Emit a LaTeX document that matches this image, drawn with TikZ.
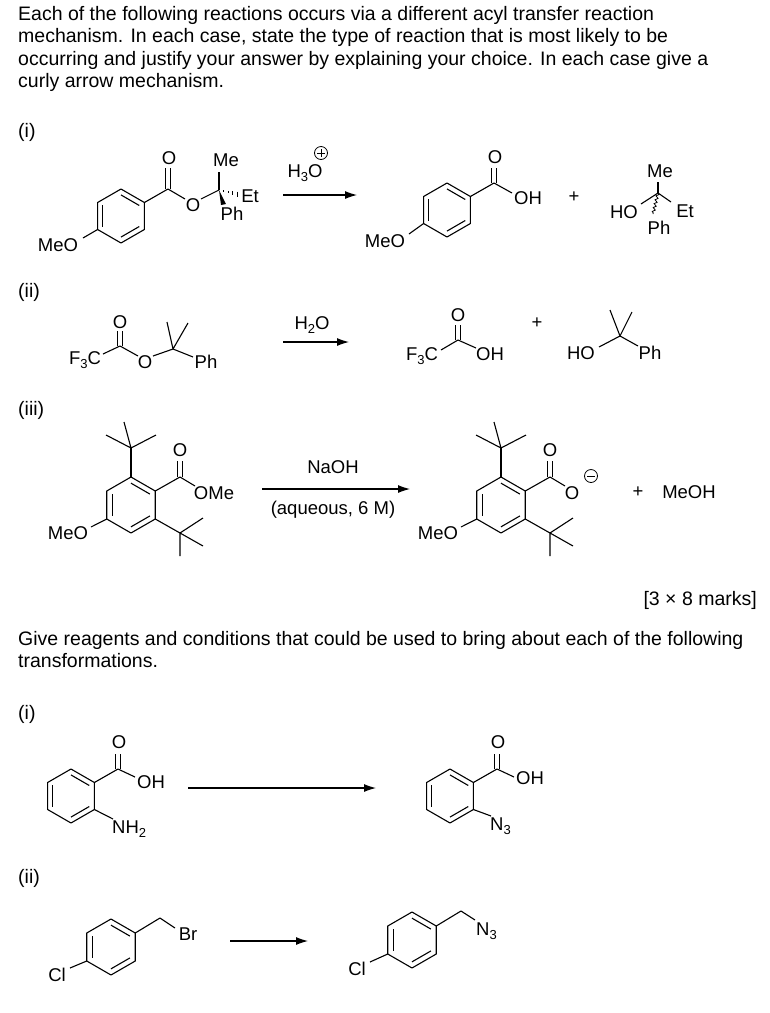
\documentclass[tikz,border=0pt]{standalone}
\usepackage{fontspec}
\setmainfont{Liberation Sans}
\usetikzlibrary{calc,decorations.pathmorphing,arrows.meta}
\newcommand\sbs[1]{\raisebox{-0.4ex}{\fontsize{13}{13}\selectfont #1}}
\newcommand\benzring[4]{%
  \coordinate (#3c) at (#1,#2);
  \foreach \i/\a in {1/-90,2/-30,3/30,4/90,5/150,6/210}{\coordinate (#3\i) at ($(#1,#2)+(\a:#4)$);}
  \draw[bond] (#31)--(#32)--(#33)--(#34)--(#35)--(#36)--cycle;
  \draw[bond] ($(#3c)!0.78!(#31)$)--($(#3c)!0.78!(#32)$);
  \draw[bond] ($(#3c)!0.78!(#33)$)--($(#3c)!0.78!(#34)$);
  \draw[bond] ($(#3c)!0.78!(#35)$)--($(#3c)!0.78!(#36)$);
}
\begin{document}
\begin{tikzpicture}[x=1pt,y=-1pt,
  bond/.style={line width=1.1pt,line join=round},
  rarrow/.style={line width=1.1pt,-{Latex[length=12pt,width=8pt]}},
  lab/.style={inner sep=0pt,font=\fontsize{18.5}{21}\selectfont},
  txt/.style={inner sep=0pt,anchor=west,font=\fontsize{19.5}{22}\selectfont}]
\useasboundingbox (0,0) rectangle (770,1013);
\fill[white] (0,0) rectangle (770,1013);
% header
\node[txt,anchor=north west,align=left,font=\fontsize{19.5}{22.5}\selectfont] (head) at (18,6)
 {Each of the following reactions occurs via a different acyl transfer reaction\\
  mechanism. In each case, state the type of reaction that is most likely to be\\
  occurring and justify your answer by explaining your choice. In each case give a\\
  curly arrow mechanism.};
\node[txt] (l1) at (18,132) {(i)};
\node[txt] (l2) at (18,292) {(ii)};
\node[txt] (l3) at (18,410) {(iii)};
\node[txt,anchor=east] (marks) at (757,600) {[3 × 8 marks]};
\node[txt,anchor=north west,align=left,font=\fontsize{19.5}{22.5}\selectfont] (head2) at (18,631)
 {Give reagents and conditions that could be used to bring about each of the following\\ transformations.};
\node[txt] (m1) at (18,714) {(i)};
\node[txt] (m2) at (18,878) {(ii)};

% ===== (i) reactant
\benzring{121}{216}{A}{27}
\node[lab] (A_meo) at (58,245) {MeO};
\coordinate (A_o) at (83,238);
\draw[bond] (A5)--(A_o);
\coordinate (A_c) at (168,189);
\node[lab] (A_O) at (169,158) {O};
\coordinate (A_oa) at (168,168);
\draw[bond] (A2)--(A_c);
\draw[bond] ($(A_c)+(-2.5,0)$)--($(A_oa)+(-2.5,0)$) ($(A_c)+(2.5,0)$)--($(A_oa)+(2.5,0)$);
\node[lab] (A_eO) at (193,205) {O};
\draw[bond] (A_c)--(185,199);
\coordinate (A_q) at (219,190);
\draw[bond] (201,199)--(A_q);
\node[lab] (A_me) at (226,160) {Me};
\draw[bond] (A_q)--(219,172);
\node[lab] (A_et) at (250,196) {Et};
\foreach \t in {0.25,0.5,0.75,1.0}{\draw[line width=0.8pt] ($(A_q)!\t!(237,194)+(0,-2.5*\t)$)--($(A_q)!\t!(237,194)+(0,2.5*\t)$);}
\node[lab] (A_ph) at (232,214) {Ph};
\fill (A_q)--(226,204)--(221,205)--cycle;

\draw[rarrow] (283,195)--(357,195);
\node[lab] (h3o) at (305,173) {H\sbs{3}O};
\draw[line width=0.8pt] (321,153) circle (6.5);
\draw[line width=0.8pt] (317,153)--(325,153) (321,149)--(321,157);

% ===== (i) products
\benzring{447}{210}{B}{27}
\node[lab] (B_meo) at (385,241) {MeO};
\draw[bond] (B5)--(409,234);
\coordinate (B_c) at (494,183);
\draw[bond] (B2)--(B_c);
\node[lab] (B_O) at (495,157) {O};
\draw[bond] ($(B_c)+(-2.5,0)$)--($(B_c)+(-2.5,-15)$) ($(B_c)+(2.5,0)$)--($(B_c)+(2.5,-15)$);
\node[lab] (B_oh) at (528,198) {OH};
\draw[bond] (B_c)--(512,193);
\node[lab] (plus1) at (574,197) {+};
\coordinate (C_q) at (658,193);
\node[lab] (C_me) at (660,171) {Me};
\draw[bond] (C_q)--(658,182);
\node[lab] (C_ho) at (624,212) {HO};
\draw[bond] (C_q)--(641,204);
\node[lab] (C_et) at (685,211) {Et};
\draw[bond] (C_q)--(671,202);
\node[lab] (C_ph) at (659,228) {Ph};
\draw[line width=0.8pt,decorate,decoration={snake,amplitude=1.3pt,segment length=4pt}] (C_q)--(653,214);

% ===== (ii) reactant
\node[lab] (D_f) at (85,360) {F\sbs{3}C};
\coordinate (D_c) at (120,346);
\draw[bond] (103,354)--(D_c);
\node[lab] (D_O) at (120,322) {O};
\draw[bond] ($(D_c)+(-2.5,0)$)--($(D_c)+(-2.5,-15)$) ($(D_c)+(2.5,0)$)--($(D_c)+(2.5,-15)$);
\node[lab] (D_eO) at (145,362) {O};
\draw[bond] (D_c)--(138,356);
\coordinate (D_q) at (173,349);
\draw[bond] (153,356)--(D_q);
\draw[bond] (D_q)--(167,322) (D_q)--(188,323);
\node[lab] (D_ph) at (206,362) {Ph};
\draw[bond] (D_q)--(193,357);
\draw[rarrow] (283,342)--(349,342);
\node[lab] (h2o) at (312,325) {H\sbs{2}O};

% ===== (ii) products
\node[lab] (E_f) at (422,356) {F\sbs{3}C};
\coordinate (E_c) at (458,340);
\draw[bond] (441,350)--(E_c);
\node[lab] (E_O) at (458,315) {O};
\draw[bond] ($(E_c)+(-2.5,0)$)--($(E_c)+(-2.5,-15)$) ($(E_c)+(2.5,0)$)--($(E_c)+(2.5,-15)$);
\node[lab] (E_oh) at (490,354) {OH};
\draw[bond] (E_c)--(476,348);
\node[lab] (plus2) at (537,323) {+};
\node[lab] (F_ho) at (581,353) {HO};
\coordinate (F_q) at (620,336);
\draw[bond] (599,347)--(F_q);
\draw[bond] (F_q)--(610,310) (F_q)--(632,312);
\node[lab] (F_ph) at (650,353) {Ph};
\draw[bond] (F_q)--(638,346);

% ===== (iii) reactant
\benzring{131}{505}{G}{28}
\coordinate (G_t) at (131,448);
\draw[bond] (G1)--(G_t);
\draw[bond] (G_t)--(106,435) (G_t)--(156,435) (G_t)--(124,422);
\coordinate (G_c) at (180,477);
\draw[bond] (G2)--(G_c);
\node[lab] (G_O) at (180,450) {O};
\draw[bond] ($(G_c)+(-2.5,0)$)--($(G_c)+(-2.5,-16)$) ($(G_c)+(2.5,0)$)--($(G_c)+(2.5,-16)$);
\node[lab] (G_ome) at (214,493) {OMe};
\draw[bond] (G_c)--(195,486);
\coordinate (G_b) at (180,533);
\draw[bond] (G3)--(G_b);
\draw[bond] (G_b)--(203,518) (G_b)--(203,546) (G_b)--(180,556);
\node[lab] (G_meo) at (68,533) {MeO};
\draw[bond] (G5)--(91,527);
\draw[rarrow] (262,489)--(410,489);
\node[lab] (naoh) at (333,467) {NaOH};
\node[lab] (aq) at (333,510) {(aqueous, 6 M)};

% ===== (iii) products
\benzring{501}{505}{H}{28}
\coordinate (H_t) at (501,448);
\draw[bond] (H1)--(H_t);
\draw[bond] (H_t)--(476,435) (H_t)--(526,435) (H_t)--(494,422);
\coordinate (H_c) at (550,477);
\draw[bond] (H2)--(H_c);
\node[lab] (H_O) at (550,450) {O};
\draw[bond] ($(H_c)+(-2.5,0)$)--($(H_c)+(-2.5,-16)$) ($(H_c)+(2.5,0)$)--($(H_c)+(2.5,-16)$);
\node[lab] (H_om) at (572,493) {O};
\draw[bond] (H_c)--(565,486);
\draw[line width=0.8pt] (591,476) circle (6.5);
\draw[line width=0.8pt] (587,476)--(595,476);
\coordinate (H_b) at (550,533);
\draw[bond] (H3)--(H_b);
\draw[bond] (H_b)--(573,518) (H_b)--(573,546) (H_b)--(550,556);
\node[lab] (H_meo) at (438,533) {MeO};
\draw[bond] (H5)--(461,527);
\node[lab] (plus3) at (638,492) {+};
\node[lab] (meoh) at (689,492) {MeOH};

% ===== part 2 (i)
\benzring{71}{796}{J}{27}
\coordinate (J_c) at (118,769);
\draw[bond] (J2)--(J_c);
\node[lab] (J_O) at (119,742) {O};
\draw[bond] ($(J_c)+(-2.5,0)$)--($(J_c)+(-2.5,-15)$) ($(J_c)+(2.5,0)$)--($(J_c)+(2.5,-15)$);
\node[lab] (J_oh) at (151,782) {OH};
\draw[bond] (J_c)--(135,777);
\node[lab,anchor=west] (J_n) at (112,829) {NH\sbs{2}};
\draw[bond] (J3)--(113,819);
\draw[rarrow] (188,788)--(376,788);

\benzring{450}{796}{K}{27}
\coordinate (K_c) at (497,769);
\draw[bond] (K2)--(K_c);
\node[lab] (K_O) at (498,742) {O};
\draw[bond] ($(K_c)+(-2.5,0)$)--($(K_c)+(-2.5,-15)$) ($(K_c)+(2.5,0)$)--($(K_c)+(2.5,-15)$);
\node[lab] (K_oh) at (530,778) {OH};
\draw[bond] (K_c)--(514,777);
\node[lab,anchor=west] (K_n) at (490,826) {N\sbs{3}};
\draw[bond] (K3)--(491,816);

% ===== part 2 (ii)
\benzring{111}{947}{L}{28}
\node[lab] (L_cl) at (57,975) {Cl};
\draw[bond] (L5)--(70,968);
\coordinate (L_ch) at (160,918);
\draw[bond] (L2)--(L_ch)--(175,928);
\node[lab] (L_br) at (188,934) {Br};
\draw[rarrow] (230,941)--(308,941);

\benzring{412}{940}{M}{28}
\node[lab] (M_cl) at (357,969) {Cl};
\draw[bond] (M5)--(370,962);
\coordinate (M_ch) at (461,911);
\draw[bond] (M2)--(M_ch)--(475,920);
\node[lab,anchor=west] (M_n) at (476,931) {N\sbs{3}};
\end{tikzpicture}
\end{document}
